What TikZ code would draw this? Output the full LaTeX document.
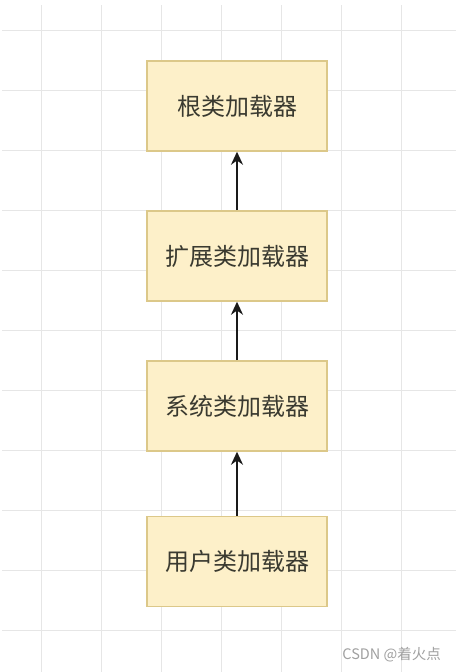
\documentclass[tikz,border=0pt]{standalone}
\usepackage{fontspec}
\newfontfamily\cjk{Noto Sans CJK SC}
\usetikzlibrary{arrows.meta}
\definecolor{gridc}{HTML}{E6E6E6}
\definecolor{boxfill}{HTML}{FDF0C9}
\definecolor{boxline}{HTML}{DCC889}
\definecolor{txt}{HTML}{3A3A30}
\definecolor{arr}{HTML}{1A1A1A}
\definecolor{wm}{HTML}{A0A0A0}
\tikzset{
  loader/.style={draw=boxline, fill=boxfill, line width=1.5pt, minimum width=180pt, minimum height=90pt, inner sep=0pt,
    font=\cjk\fontsize{24}{28}\selectfont, text=txt},
  uparrow/.style={draw=arr, line width=2pt, -{Stealth[length=13pt,width=12pt]}},
}
\begin{document}
\begin{tikzpicture}[x=1pt,y=1pt]
\useasboundingbox[fill=white] (0,0) rectangle (456,672);
% grid
\foreach \gx in {41,101,...,401} \draw[gridc, line width=0.8pt] (\gx,0) -- (\gx,667);
\foreach \gy in {42,102,...,642} \draw[gridc, line width=0.8pt] (2,\gy) -- (456,\gy);
% boxes
\node[loader] (root) at (237,566) {根类加载器};
\node[loader] (ext) at (237,416) {扩展类加载器};
\node[loader] (sys) at (237,266) {系统类加载器};
\node[loader] (usr) at (237,110.5) {用户类加载器};
% arrows
\draw[uparrow] (ext.north) -- (root.south);
\draw[uparrow] (sys.north) -- (ext.south);
\draw[uparrow] (usr.north) -- (sys.south);
% watermark
\node[anchor=east, text=wm, font=\cjk\fontsize{14.5}{17}\selectfont, inner sep=0pt] (wmk) at (441,17) {CSDN @着火点};
\end{tikzpicture}
\end{document}
